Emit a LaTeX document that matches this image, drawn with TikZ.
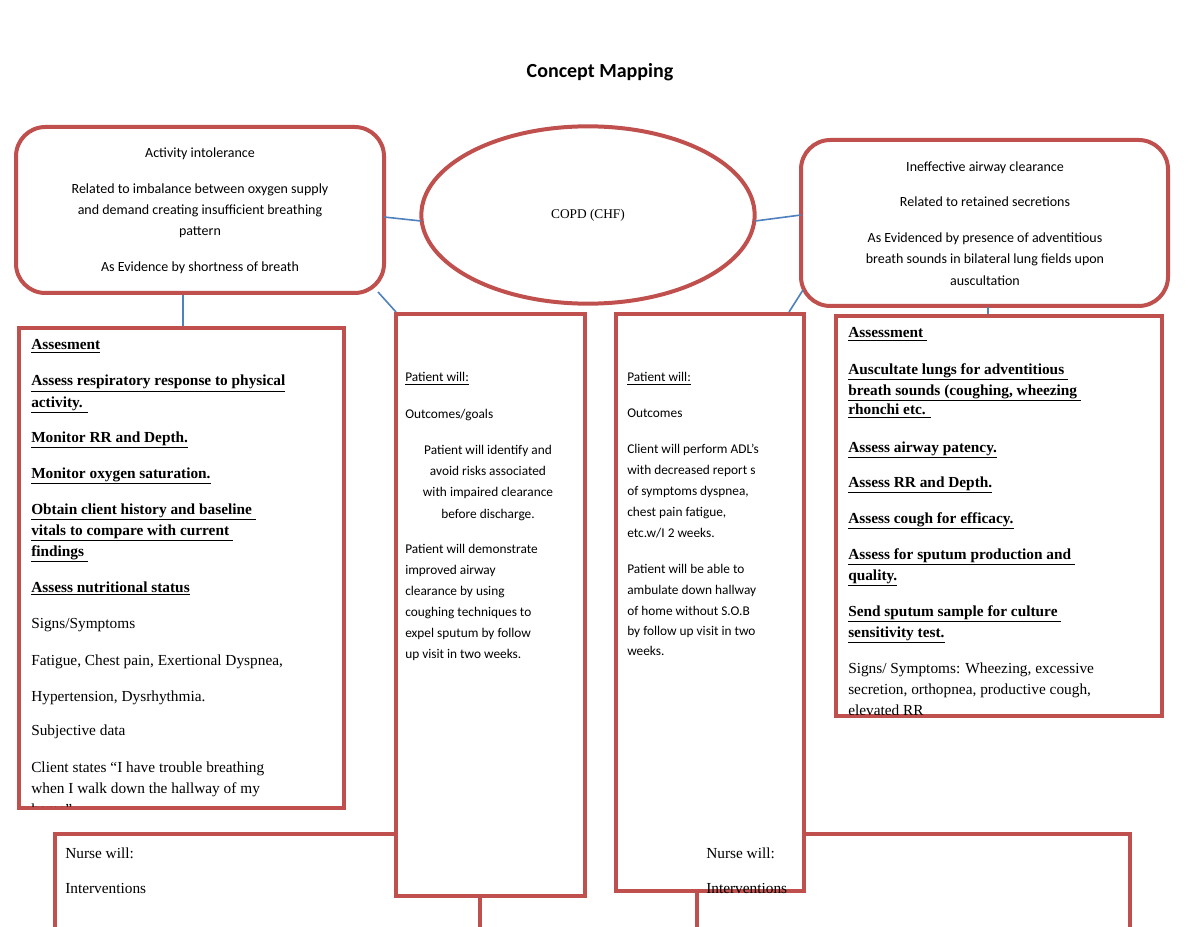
\documentclass[tikz,border=0pt]{standalone}
\usepackage{fontspec}
\setmainfont{Liberation Serif}
\newfontfamily\carl{Carlito}
\usetikzlibrary{shapes.geometric}
\definecolor{rd}{HTML}{C0504D}
\definecolor{bl}{HTML}{4F81BD}
\newcommand\tl[3]{\node[anchor=base west,inner sep=0] at (#1,#2) {#3};}
\newcommand\tc[3]{\node[anchor=base,inner sep=0] at (#1,#2) {#3};}
\newcommand\bu[1]{\textbf{\underline{#1}}}
\begin{document}
\begin{tikzpicture}[x=0.75pt,y=-0.75pt,
  box/.style={draw=rd,line width=3pt,fill=white},
  link/.style={draw=bl,line width=1.2pt}]
\useasboundingbox (0,0) rectangle (1200,927);
\fill[white] (0,0) rectangle (1200,927);
\node[font=\carl\bfseries\fontsize{15}{18}\selectfont] (title) at (600,72) {Concept Mapping};
% nurse boxes
\draw[box] (480,940) -- (480,896) (396,834) -- (55,834) -- (55,940);
\fill[white] (57,836) rectangle (478,940);
\draw[box] (697,940) -- (697,891) (804,834) -- (1130,834) -- (1130,940);
\fill[white] (699,836) rectangle (1128,940);
% top shapes
\draw[box,rounded corners=22pt] (16,127) rectangle (384,293);
\node[draw=rd,line width=3pt,ellipse,minimum width=250pt,minimum height=133pt,inner sep=0] (copd) at (588,215) {};
\node at (588,215) {COPD (CHF)};
\draw[box,rounded corners=22pt] (801,140) rectangle (1168,306);
% lower boxes
\draw[box] (19,328) rectangle (344,808);
\draw[box] (396,314) rectangle (585,896);
\draw[box] (616,314) rectangle (804,891);
\draw[box] (836,316) rectangle (1162,716);
% connectors
\coordinate (a1) at (384,217); \coordinate (a2) at (421,221);
\draw[link] (a1) -- (a2);
\coordinate (b1) at (755,221); \coordinate (b2) at (801,215);
\draw[link] (b1) -- (b2);
\coordinate (c1) at (183,295); \coordinate (c2) at (183,326);
\draw[link] (c1) -- (c2);
\coordinate (d1) at (378,292); \coordinate (d2) at (396,312);
\draw[link] (d1) -- (d2);
\coordinate (e1) at (803,290); \coordinate (e2) at (789,312);
\draw[link] (e1) -- (e2);
\coordinate (f1) at (988,307); \coordinate (f2) at (988,314);
\draw[link] (f1) -- (f2);
% top texts
\begin{scope}[font=\carl\fontsize{10.5}{12}\selectfont]
\tc{200}{158}{Activity intolerance}
\tc{200}{194}{Related to imbalance between oxygen supply}
\tc{200}{215}{and demand creating insufficient  breathing}
\tc{200}{236}{pattern}
\tc{200}{272}{As Evidence by shortness of breath}
\tc{985}{172}{Ineffective airway clearance}
\tc{985}{207}{Related to retained secretions}
\tc{985}{243}{As Evidenced  by presence of adventitious}
\tc{985}{264}{breath sounds in bilateral lung fields upon}
\tc{985}{286}{auscultation}
\end{scope}
% left assessment
\begin{scope}[font=\fontsize{11.5}{13}\selectfont]
\clip (21,330) rectangle (342,806);
\tl{31}{350}{\bu{Assesment}}
\tl{31}{386}{\bu{Assess respiratory response to physical}}
\tl{31}{407}{\bu{activity. }}
\tl{31}{442}{\bu{Monitor RR and Depth.}}
\tl{31}{478}{\bu{Monitor oxygen saturation.}}
\tl{31}{514}{\bu{Obtain client history and baseline }}
\tl{31}{535}{\bu{vitals to compare  with current }}
\tl{31}{556}{\bu{findings }}
\tl{31}{592}{\bu{Assess nutritional status}}
\tl{31}{628}{Signs/Symptoms}
\tl{31}{665}{Fatigue, Chest pain, Exertional Dyspnea,}
\tl{31}{701}{Hypertension, Dysrhythmia.}
\tl{31}{735}{Subjective data}
\tl{31}{772}{Client states “I have trouble breathing}
\tl{31}{793}{when I walk down the hallway of my}
\tl{31}{814}{home”}
\end{scope}
% right assessment
\begin{scope}[font=\fontsize{11.5}{13}\selectfont]
\clip (838,318) rectangle (1160,714);
\tl{848}{338}{\bu{Assessment }}
\tl{848}{374}{\bu{Auscultate lungs for adventitious }}
\tl{848}{395}{\bu{breath sounds (coughing, wheezing }}
\tl{848}{415}{\bu{rhonchi etc. }}
\tl{848}{452}{\bu{Assess airway patency.}}
\tl{848}{487}{\bu{Assess RR and Depth.}}
\tl{848}{523}{\bu{Assess cough for efficacy.}}
\tl{848}{559}{\bu{Assess for sputum production and }}
\tl{848}{580}{\bu{quality.}}
\tl{848}{616}{\bu{Send sputum sample  for culture }}
\tl{848}{637}{\bu{sensitivity test.}}
\tl{848}{673}{Signs/ Symptoms: Wheezing, excessive}
\tl{848}{694}{secretion, orthopnea, productive cough,}
\tl{848}{715}{elevated RR}
\end{scope}
% patient boxes
\begin{scope}[font=\carl\fontsize{10}{12}\selectfont]
\tl{405}{382}{\underline{Patient will:}}
\tl{405}{418}{Outcomes/goals}
\tc{488}{455}{Patient will identify and}
\tc{488}{475}{avoid risks associated}
\tc{488}{496}{with impaired clearance}
\tc{488}{518}{before discharge.}
\tl{405}{553}{Patient will demonstrate}
\tl{405}{574}{improved airway}
\tl{405}{595}{clearance by using}
\tl{405}{616}{coughing techniques to}
\tl{405}{637}{expel sputum by follow}
\tl{405}{658}{up visit in two weeks.}
\tl{627}{382}{\underline{Patient will:}}
\tl{627}{417}{Outcomes}
\tl{627}{453}{Client will perform ADL’s}
\tl{627}{474}{with decreased report s}
\tl{627}{495}{of symptoms dyspnea,}
\tl{627}{516}{chest pain fatigue,}
\tl{627}{537}{etc.w/I 2 weeks.}
\tl{627}{573}{Patient will be able to}
\tl{627}{594}{ambulate down hallway}
\tl{627}{615}{of home without S.O.B}
\tl{627}{635}{by follow up visit in two}
\tl{627}{655}{weeks.}
\end{scope}
% nurse texts
\begin{scope}[font=\fontsize{11.5}{13}\selectfont]
\tl{65}{858}{Nurse will:}
\tl{65}{893}{Interventions}
\tl{706}{858}{Nurse will:}
\tl{706}{893}{Interventions}
\end{scope}
\end{tikzpicture}
\end{document}
